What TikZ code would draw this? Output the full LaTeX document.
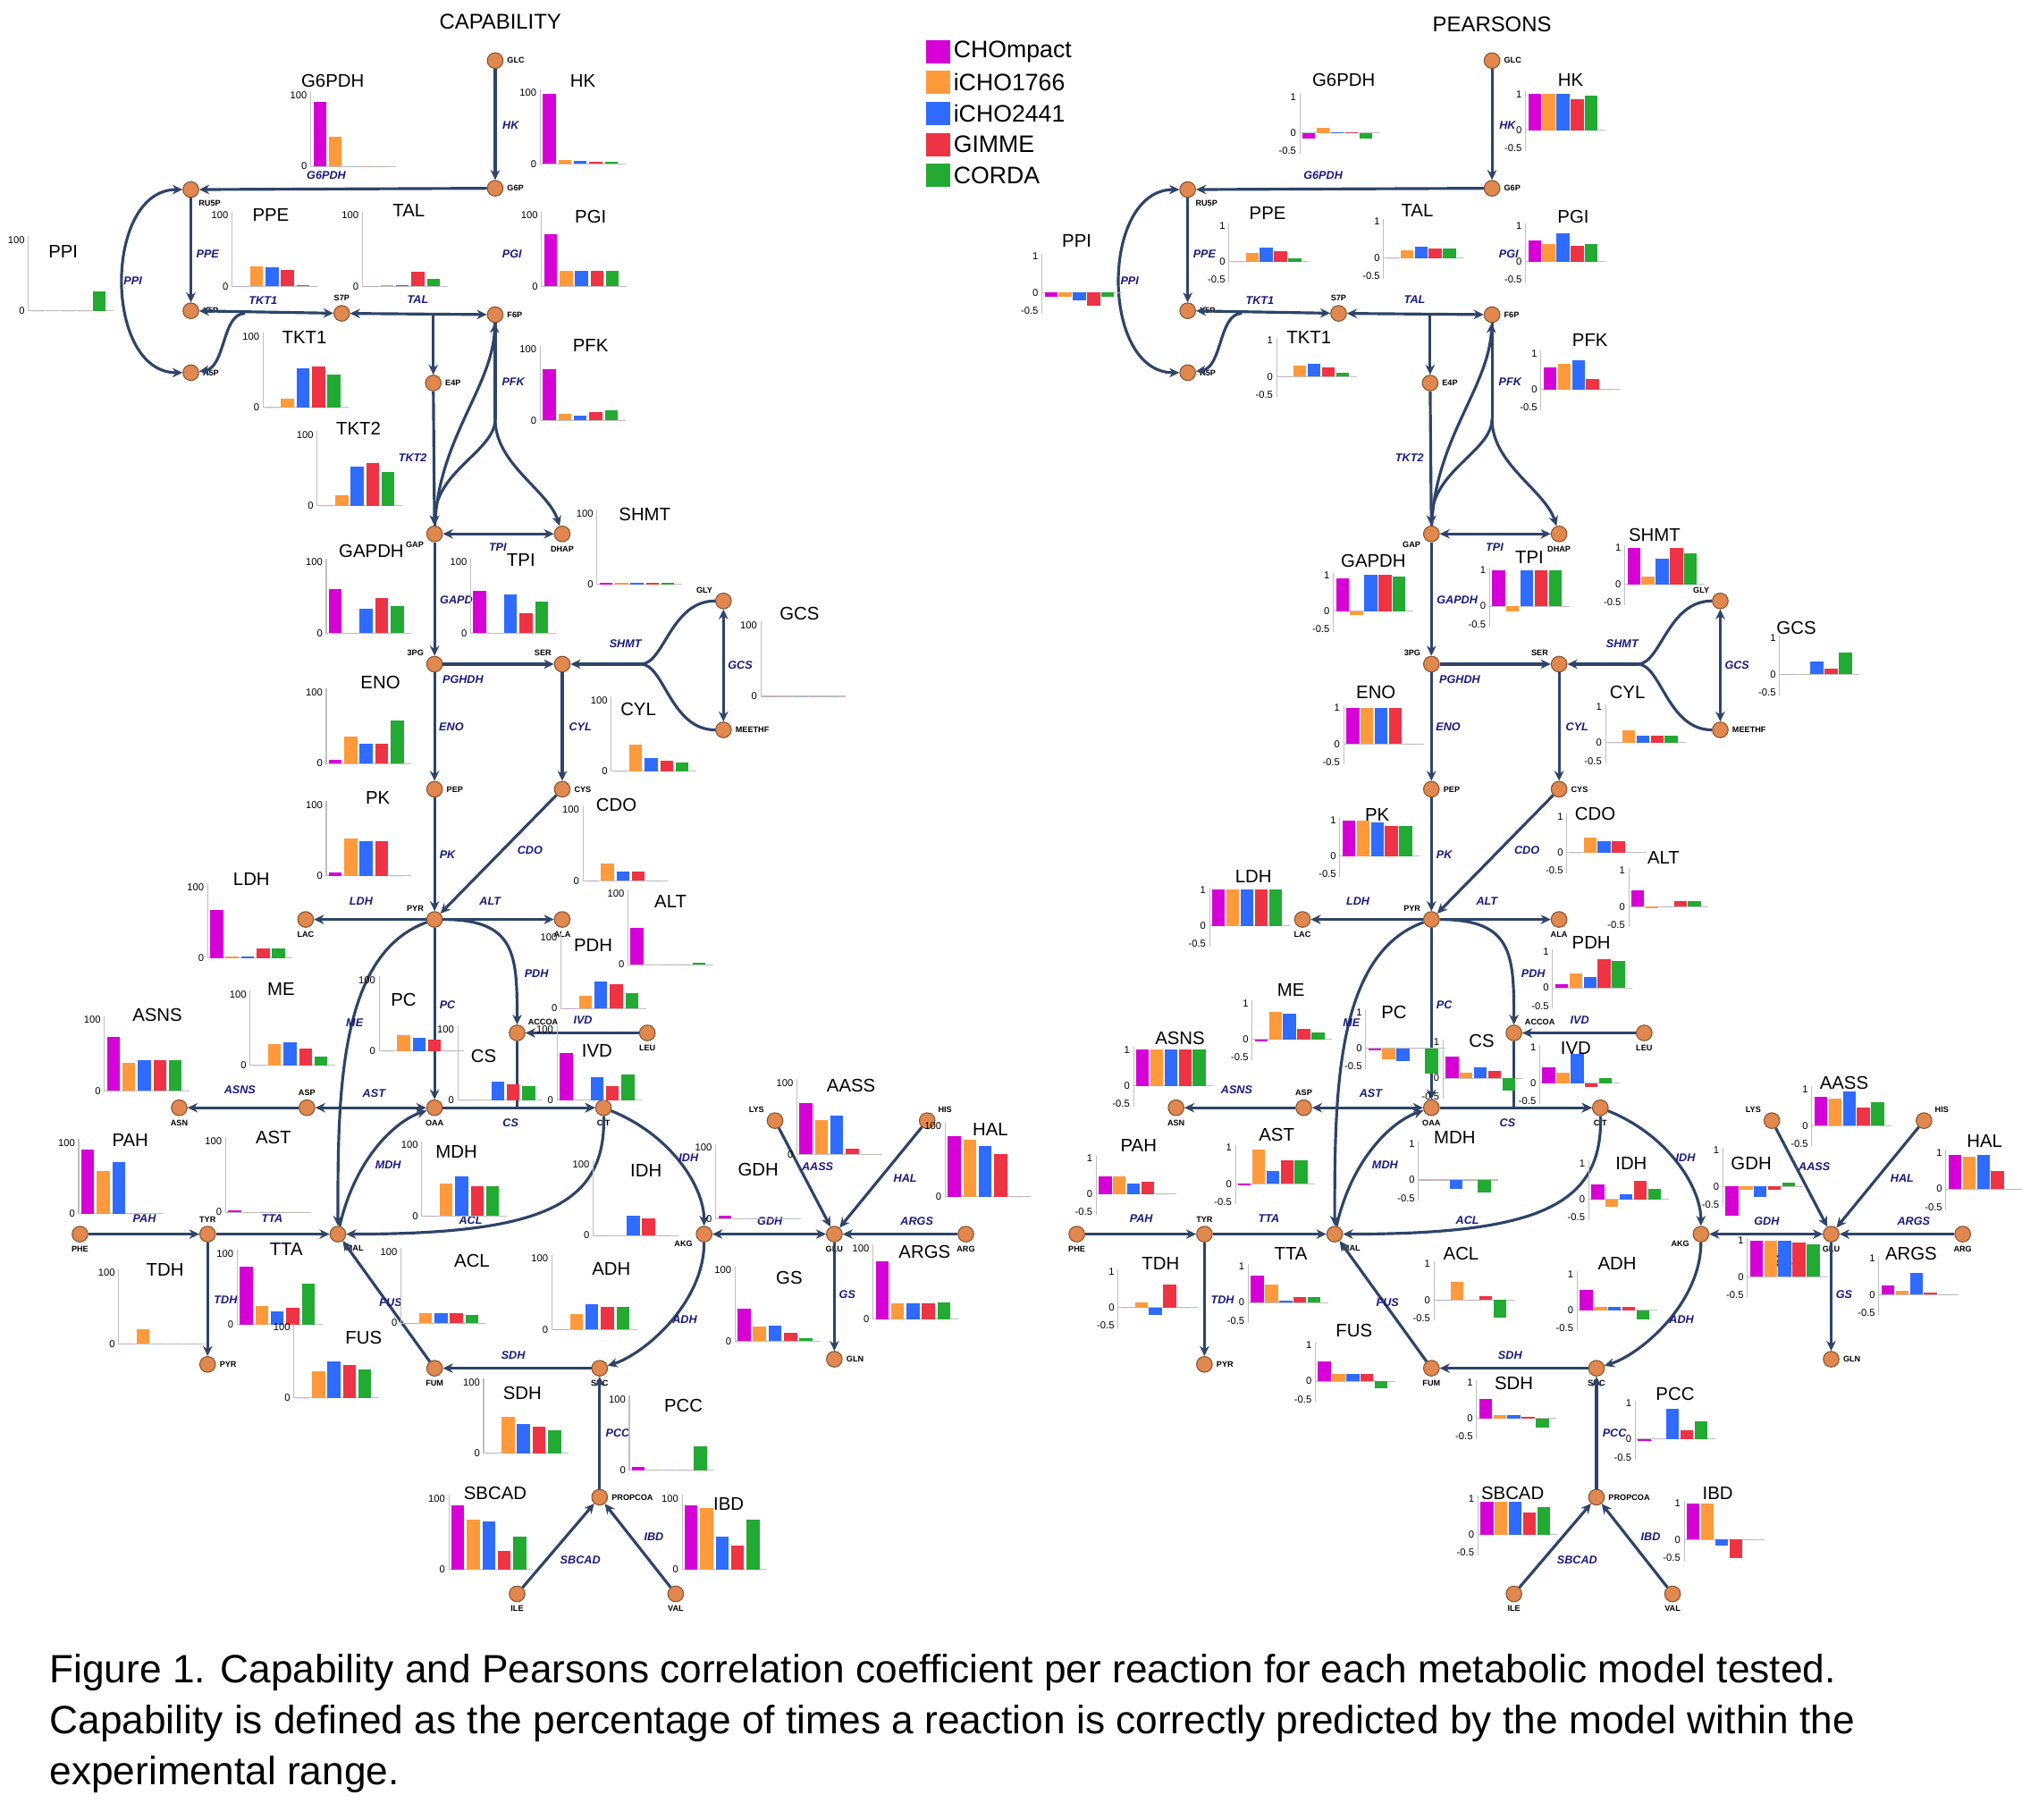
\documentclass[tikz,border=0pt]{standalone}
\usepackage{fontspec}
\setmainfont{Liberation Sans}
\usetikzlibrary{arrows.meta}
\definecolor{cM}{HTML}{D600D6}
\definecolor{cO}{HTML}{FF9A3C}
\definecolor{cB}{HTML}{2F6BFF}
\definecolor{cR}{HTML}{EE3344}
\definecolor{cG}{HTML}{22AA33}
\definecolor{navy}{HTML}{1A1A7A}
\definecolor{metorange}{HTML}{E0884F}
\definecolor{edgec}{HTML}{2E4468}
\tikzset{
  met/.style={circle, fill=metorange, draw=metorange!60!black, line width=0.3pt, minimum size=5pt, inner sep=0pt},
  mlab/.style={font=\fontsize{2.6}{3}\selectfont\bfseries, inner sep=1pt},
  rlab/.style={font=\fontsize{3.6}{4}\selectfont\bfseries\itshape, text=navy},
  edge/.style={draw=edgec, line width=0.9pt, -{Stealth[length=3.2pt,width=3pt]}},
  edgeb/.style={draw=edgec, line width=0.9pt, {Stealth[length=3.2pt,width=3pt]}-{Stealth[length=3.2pt,width=3pt]}},
  plain/.style={draw=edgec, line width=0.9pt},
  tick/.style={font=\fontsize{3.2}{3.5}\selectfont, inner sep=1pt, left},
  ctitle/.style={font=\fontsize{5.8}{6}\selectfont},
}
\begin{document}
\begin{tikzpicture}[x=0.01443cm, y=-0.01443cm]
      \useasboundingbox (0,0) rectangle (1568,1411);
      \fill[white] (0,0) rectangle (1568,1411);
      % titles and legend
      \node[font=\fontsize{6.8}{7}\selectfont] (captitle) at (388,17) {CAPABILITY};
      \node[font=\fontsize{6.8}{7}\selectfont] (peartitle) at (1157,19) {PEARSONS};
      \foreach \c/\t [count=\k] in {cM/CHOmpact, cO/iCHO1766, cB/iCHO2441, cR/GIMME, cG/CORDA} {
        \fill[\c] (718,{40+24*(\k-1)-9}) rectangle ++(19,18);
        \node[anchor=west, font=\fontsize{7.6}{8}\selectfont, inner sep=0pt] (leg\k) at (739,{40+24*(\k-1)}) {\t};
      }
      % both networks
      \foreach \s/\p in {0/L,773/R} {
      \begin{scope}[shift={(\s,0)}]
        \foreach \n/\x/\y/\t/\a in {glc/384/47/GLC/0, g6p/384/146/G6P/0, ru5p/148/147/RU5P/-60,
          x5p/148/241/X5P/0, r5p/148/289/R5P/0, s7p/265/243/S7P/90, f6p/384/244/F6P/0,
          e4p/336/297/E4P/0, gap/337/414/GAP/210, dhap/436/414/DHAP/-90, 3pg/337/515/3PG/150,
          ser/436/515/SER/150, gly/561/466/GLY/150, meethf/561/566/MEETHF/0, pep/337/612/PEP/0,
          cys/436/612/CYS/0, pyr/337/713/PYR/150, lac/237/713/LAC/-90, ala/436/713/ALA/-90,
          accoa/401/801/ACCOA/30, leu/502/801/LEU/-90, oaa/337/859/OAA/-90, asp/238/859/ASP/90,
          asn/139/859/ASN/-90, cit/468/859/CIT/-90, mal/262/957/MAL/-60, tyr/161/957/TYR/90,
          phe/62/957/PHE/-90, pyrb/161/1058/PYR/0, akg/546/957/AKG/200, glu/647/957/GLU/-90,
          lys/601/869/LYS/150, his/719/869/HIS/30, arg/749/957/ARG/-90, gln/647/1054/GLN/0,
          fum/337/1061/FUM/-90, suc/465/1061/SUC/-90, propcoa/465/1161/PROPCOA/0,
          ile/401/1236/ILE/-90, val/524/1236/VAL/-90}
          \node[met, label={[mlab]\a:\t}] (\p-\n) at (\x,\y) {};
        \coordinate (\p-t1) at (190,243);
        \coordinate (\p-sp) at (384,325);
        \coordinate (\p-sh) at (497,515);
        \coordinate (\p-e4) at (336,243);
        % connectors
        \draw[edge] (\p-glc) -- (\p-g6p);
        \draw[edge] (\p-g6p) -- (\p-ru5p);
        \draw[edge] (\p-ru5p) -- (\p-x5p);
        \draw[edgeb] (\p-ru5p) .. controls (80,147) and (80,289) .. (\p-r5p);
        \draw[edgeb] (\p-x5p) -- (\p-s7p);
        \draw[edge] (\p-t1) .. controls (172,243) and (175,285) .. (\p-r5p);
        \draw[edgeb] (\p-s7p) -- (\p-f6p);
        \draw[edge] (\p-e4) -- (\p-e4p);
        \draw[edge] (\p-e4p) -- (\p-gap);
        \draw[plain] (\p-f6p) -- (\p-sp);
        \draw[edge] (\p-sp) .. controls (384,350) and (337,365) .. (\p-gap);
        \draw[edge] (\p-sp) .. controls (384,360) and (425,380) .. (\p-dhap);
        \draw[edge] (\p-gap) .. controls (340,340) and (382,300) .. (\p-f6p);
        \draw[edgeb] (\p-gap) -- (\p-dhap);
        \draw[edge] (\p-gap) -- (\p-3pg);
        \draw[edge] (\p-3pg) -- (\p-ser);
        \draw[plain] (\p-gly) .. controls (520,466) and (515,515) .. (\p-sh);
        \draw[plain] (\p-meethf) .. controls (520,566) and (515,515) .. (\p-sh);
        \draw[edge] (\p-sh) -- (\p-ser);
        \draw[edgeb] (\p-gly) -- (\p-meethf);
        \draw[edge] (\p-3pg) -- (\p-pep);
        \draw[edge] (\p-ser) -- (\p-cys);
        \draw[edge] (\p-pep) -- (\p-pyr);
        \draw[edge] (\p-cys) -- (\p-pyr);
        \draw[edge] (\p-pyr) -- (\p-lac);
        \draw[edge] (\p-pyr) -- (\p-ala);
        \draw[edge] (\p-pyr) .. controls (400,713) and (401,740) .. (\p-accoa);
        \draw[edge] (\p-leu) -- (\p-accoa);
        \draw[edge] (\p-pyr) -- (\p-oaa);
        \draw[edgeb] (\p-asp) -- (\p-oaa);
        \draw[edge] (\p-asp) -- (\p-asn);
        \draw[edge] (\p-oaa) -- (\p-cit);
        \draw[edge] (\p-accoa) |- (\p-cit);
        \draw[edge] (\p-pyr) .. controls (262,740) and (262,850) .. (\p-mal);
        \draw[edge] (\p-mal) .. controls (275,900) and (305,870) .. (\p-oaa);
        \draw[edge] (\p-cit) .. controls (470,935) and (420,957) .. (\p-mal);
        \draw[edge] (\p-cit) .. controls (520,880) and (546,920) .. (\p-akg);
        \draw[edgeb] (\p-akg) -- (\p-glu);
        \draw[edge] (\p-lys) -- (\p-glu);
        \draw[edge] (\p-his) -- (\p-glu);
        \draw[edge] (\p-arg) -- (\p-glu);
        \draw[edge] (\p-glu) -- (\p-gln);
        \draw[edge] (\p-akg) .. controls (546,1010) and (500,1050) .. (\p-suc);
        \draw[edge] (\p-suc) -- (\p-fum);
        \draw[edge] (\p-fum) -- (\p-mal);
        \draw[edge] (\p-phe) -- (\p-tyr);
        \draw[edge] (\p-tyr) -- (\p-mal);
        \draw[edge] (\p-tyr) -- (\p-pyrb);
        \draw[edge] (\p-propcoa) -- (\p-suc);
        \draw[edge] (\p-ile) -- (\p-propcoa);
        \draw[edge] (\p-val) -- (\p-propcoa);
        % reaction labels
        \foreach \t/\x/\y in {HK/396/97, G6PDH/253/136, PPE/161/197, PPI/103/218, TKT1/204/233,
          TAL/324/232, PGI/397/197, PFK/398/296, TKT2/320/355, TPI/386/424, GAPDH/357/465,
          PGHDH/359/527, SHMT/485/499, GCS/574/516, ENO/350/564, CYL/450/564, PK/347/663,
          CDO/411/659, LDH/280/699, ALT/380/699, PDH/416/755, IVD/452/791, PC/347/779,
          ME/275/793, AST/290/848, ASNS/186/845, CS/396/871, IDH/534/898, MDH/301/903,
          GDH/597/947, AASS/634/905, HAL/702/914, ARGS/711/947, PAH/112/945, TTA/211/945,
          ACL/365/946, TDH/175/1008, GS/657/1004, FUS/303/1010, ADH/531/1023, SDH/398/1051,
          PCC/479/1111, IBD/507/1192, SBCAD/450/1210}
          \node[rlab] (\p-r\t) at (\x,\y) {\t};
      \end{scope}
      }
      % capability charts
      \foreach \x/\y/\tx/\ty/\n/\a/\b/\c/\d/\e in {
        241/129/258/63/G6PDH/91/42/0/0/0, 419/127/452/63/HK/98/5/4/3/3,
        180/222/210/167/PPE/0/28/27/23/1, 281/222/317/163/TAL/0/1/2/20/10,
        420/222/458/168/PGI/74/22/22/22/22, 22/241/49/195/PPI/0/0/0/0/27,
        204/316/236/262/TKT1/0/13/55/58/47, 419/326/458/268/PFK/72/9/7/12/14,
        246/392/278/332/TKT2/0/14/55/60/47, 463/453/500/399/SHMT/2/2/2/2/2,
        253/491/288/427/GAPDH/62/0/35/50/38, 365/491/404/434/TPI/60/0/55/28/44,
        590/540/620/476/GCS/0/0/0/0/0, 253/592/295/529/ENO/5/38/28/28/60,
        474/598/495/550/CYL/0/38/18/15/12, 253/679/293/619/PK/4/52/48/48/0,
        452/683/478/624/CDO/0/24/13/13/0, 161/743/195/682/LDH/68/2/2/14/14,
        487/748/520/699/ALT/52/0/0/0/3, 194/826/218/767/ME/0/30/32/24/12,
        435/782/460/733/PDH/0/18/38/34/22, 294/815/313/775/PC/0/22/18/16/0,
        81/846/122/787/ASNS/76/40/44/44/44, 355/853/375/819/CS/0/0/26/22/20,
        432/853/463/815/IVD/66/0/32/20/36, 618/895/660/842/AASS/72/48/54/8/0,
        733/928/768/876/HAL/86/80/72/60/0, 61/941/101/884/PAH/90/60/72/0/0,
        175/940/212/882/AST/3/0/0/0/0, 460/958/501/908/IDH/0/0/28/24/0,
        555/945/588/907/GDH/4/0/0/0/0, 327/943/354/893/MDH/0/46/56/42/42,
        184/1027/222/969/TTA/82/26/18/24/58, 311/1026/366/978/ACL/0/14/14/14/12,
        428/1031/474/984/ADH/0/22/36/32/32, 570/1040/612/991/GS/46/20/22/12/4,
        677/1023/717/971/ARGS/82/22/22/22/24, 92/1042/128/985/TDH/0/20/0/0/0,
        228/1084/282/1037/FUS/0/38/52/46/40, 375/1127/405/1080/SDH/0/52/42/38/32,
        488/1140/530/1090/PCC/4/0/0/0/34, 348/1217/384/1158/SBCAD/90/70/68/26/46,
        529/1217/565/1166/IBD/90/86/46/34/70} {
        \node[ctitle] (cap\n) at (\tx,\ty) {\n};
        \begin{scope}[shift={(\x,\y)}]
          \draw[gray!50, line width=0.3pt] (0,-58) -- (0,0) -- (66,0);
          \node[tick] at (0,-55) {100};
          \node[tick] at (0,0) {0};
          \fill[cM] (2,0) rectangle ++(10,{-0.55*\a});
          \fill[cO] (14,0) rectangle ++(10,{-0.55*\b});
          \fill[cB] (26,0) rectangle ++(10,{-0.55*\c});
          \fill[cR] (38,0) rectangle ++(10,{-0.55*\d});
          \fill[cG] (50,0) rectangle ++(10,{-0.55*\e});
        \end{scope}
      }
      % pearson charts
      \foreach \x/\y/\tx/\ty/\n/\a/\b/\c/\d/\e in {
        1008/103/1042/62/G6PDH/-0.15/0.15/0.02/0.02/-0.15, 1183/101/1218/62/HK/1/1/1/0.85/0.95,
        953/203/983/165/PPE/0/0.25/0.4/0.3/0.1, 1073/200/1099/163/TAL/0/0.2/0.3/0.25/0.25,
        1183/203/1220/168/PGI/0.6/0.5/0.8/0.45/0.5, 808/227/835/187/PPI/-0.1/-0.1/-0.2/-0.35/-0.1,
        990/292/1015/262/TKT1/0/0.3/0.35/0.25/0.1, 1195/302/1233/264/PFK/0.6/0.7/0.8/0.3/0,
        1034/474/1065/435/GAPDH/0.9/-0.1/1/1/0.95, 1155/470/1186/432/TPI/1/-0.15/1/1/1,
        1260/453/1283/415/SHMT/1/0.2/0.7/1/0.85, 1380/523/1393/487/GCS/0/0/0.35/0.15/0.6,
        1042/577/1067/537/ENO/1/1/1/1/0, 1245/576/1262/537/CYL/0/0.35/0.2/0.2/0.2,
        1039/664/1068/632/PK/1/1/0.95/0.85/0.85, 1215/661/1237/631/CDO/0/0.4/0.3/0.3/0,
        938/718/972/680/LDH/1/1/1/1/1, 1263/703/1290/665/ALT/0.45/-0.05/0/0.15/0.15,
        971/806/1001/768/ME/-0.05/0.75/0.7/0.3/0.2, 1204/766/1234/731/PDH/0.1/0.4/0.3/0.8/0.75,
        1059/813/1081/785/PC/-0.05/-0.3/-0.35/0/-0.7, 879/842/915/805/ASNS/1/1/1/1/1,
        1119/836/1149/807/CS/0.6/0.15/0.3/0.2/-0.35, 1194/840/1222/813/IVD/0.45/0.3/0.8/-0.1/0.15,
        1405/873/1430/840/AASS/0.8/0.75/0.95/0.5/0.65, 1509/922/1539/885/HAL/0.95/0.9/0.95/0.5/0,
        850/926/883/888/PAH/0.5/0.5/0.3/0.35/0, 958/918/990/880/AST/-0.05/0.95/0.35/0.65/0.65,
        1100/915/1128/882/MDH/0/0/-0.25/0/-0.35, 1232/930/1265/902/IDH/0.4/-0.2/0.15/0.5/0.3,
        1336/920/1358/902/GDH/-0.8/-0.1/-0.3/-0.1/0.1, 1355/990/1380/978/GS/1/1/1/0.95/0.9,
        867/1014/900/980/TDH/0/0.15/-0.2/0.65/0, 968/1010/1001/972/TTA/0.75/0.5/0.05/0.15/0.15,
        1112/1008/1133/972/ACL/0/0.5/0/0.1/-0.5, 1223/1016/1254/980/ADH/0.55/0.1/0.1/0.1/-0.25,
        1457/1004/1482/972/ARGS/0.25/0.1/0.6/0.05/0, 1020/1071/1050/1032/FUS/0.55/0.2/0.2/0.2/-0.2,
        1145/1100/1174/1073/SDH/0.55/0.1/0.1/0.05/-0.25, 1268/1116/1299/1081/PCC/-0.05/0/0.85/0.25/0.5,
        1146/1190/1173/1158/SBCAD/0.9/0.9/0.9/0.6/0.75, 1306/1194/1332/1158/IBD/1/1/-0.15/-0.5/0} {
        \node[ctitle] (pear\n) at (\tx,\ty) {\n};
        \begin{scope}[shift={(\x,\y)}]
          \draw[gray!50, line width=0.3pt] (0,-30) -- (0,16);
          \draw[gray!50, line width=0.3pt] (0,0) -- (62,0);
          \node[tick] at (0,-28) {1};
          \node[tick] at (0,0) {0};
          \node[tick] at (0,14) {-0.5};
          \fill[cM] (2,0) rectangle ++(10,{-28*\a});
          \fill[cO] (13,0) rectangle ++(10,{-28*\b});
          \fill[cB] (24,0) rectangle ++(10,{-28*\c});
          \fill[cR] (35,0) rectangle ++(10,{-28*\d});
          \fill[cG] (46,0) rectangle ++(10,{-28*\e});
        \end{scope}
      }
      % caption
      \node[anchor=north west, align=left, inner sep=0pt, font=\fontsize{12.6}{16.2}\selectfont] (caption) at (38,1282)
        {Figure 1. Capability and Pearsons correlation coefficient per reaction for each metabolic model tested.\\
         Capability is defined as the percentage of times a reaction is correctly predicted by the model within the\\
         experimental range.};
\end{tikzpicture}
\end{document}
